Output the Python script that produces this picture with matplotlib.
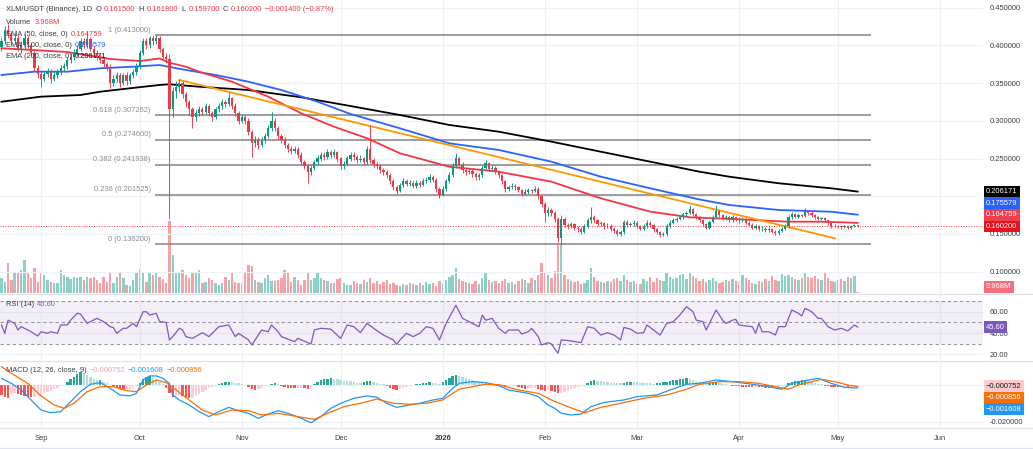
import numpy as np
import matplotlib
matplotlib.use("Agg")
import matplotlib.pyplot as plt
from matplotlib.lines import Line2D

plt.rcParams['font.family'] = ['Liberation Sans', 'DejaVu Sans']

# ---------------- data (days counted from 2025-09-01) ----------------
first_day = -12          # 2025-08-20
first_open = 0.398
close = [
    .405, .420, .415, .405, .410, .395, .400, .410, .400, .390,
    .370, .362, .355, .362, .365, .355, .360, .365, .370, .372,
    .380, .385, .390, .395, .405, .400, .408, .395, .390, .385,
    .380, .375, .370, .350, .355, .360, .350, .360, .352, .360,
    .365, .372, .390, .405, .400, .410, .405, .410, .395, .385,
    .382, .315, .340, .345, .350, .335, .325, .315, .305, .310,
    .315, .312, .320, .310, .305, .315, .320, .325, .322, .330,
    .320, .310, .300, .305, .300, .285, .270, .275, .268, .275,
    .280, .290, .300, .290, .280, .275, .268, .262, .260, .262,
    .255, .245, .240, .232, .238, .245, .250, .255, .252, .258,
    .255, .258, .250, .240, .243, .250, .255, .252, .248, .250,
    .245, .262, .248, .243, .240, .235, .232, .228, .220, .212,
    .207, .215, .220, .216, .218, .214, .218, .215, .220, .222,
    .226, .222, .210, .202, .210, .220, .228, .240, .250, .242,
    .235, .232, .234, .230, .226, .228, .238, .244, .236, .238,
    .232, .228, .220, .210, .212, .214, .212, .208, .203, .206,
    .208, .207, .210, .200, .190, .178, .182, .178, .170, .145,
    .170, .162, .160, .163, .158, .156, .153, .160, .168, .172,
    .168, .163, .164, .160, .161, .157, .154, .150, .152, .166,
    .162, .163, .165, .160, .157, .160, .165, .162, .156, .152,
    .149, .150, .160, .165, .168, .170, .172, .176, .178, .183,
    .176, .172, .168, .163, .158, .166, .172, .180, .175, .170,
    .172, .168, .172, .170, .168, .169, .165, .162, .158, .160,
    .156, .157, .155, .156, .153, .151, .154, .157, .160, .172,
    .176, .173, .175, .174, .180, .178, .175, .172, .170, .171,
    .168, .164, .160, .161, .160, .159, .160, .158, .160, .1615, .1602]
high = [
    .410, .425, .428, .418, .416, .413, .405, .415, .412, .403,
    .392, .374, .366, .366, .370, .368, .364, .369, .374, .377,
    .385, .390, .395, .400, .410, .409, .418, .411, .399, .394,
    .389, .384, .378, .375, .360, .364, .363, .363, .364, .363,
    .369, .376, .394, .410, .409, .412, .413, .413, .412, .398,
    .390, .388, .345, .352, .355, .352, .338, .328, .318, .314,
    .319, .318, .324, .322, .313, .318, .324, .329, .328, .338,
    .332, .323, .313, .309, .308, .303, .288, .280, .278, .279,
    .284, .294, .312, .303, .293, .283, .278, .271, .266, .266,
    .265, .258, .248, .243, .241, .248, .254, .259, .258, .262,
    .261, .262, .260, .252, .247, .253, .259, .258, .255, .254,
    .252, .266, .294, .251, .246, .243, .238, .235, .231, .223,
    .215, .218, .224, .223, .221, .220, .221, .220, .224, .226,
    .230, .228, .224, .212, .213, .223, .232, .244, .257, .252,
    .245, .238, .237, .236, .232, .231, .241, .248, .246, .241,
    .240, .234, .230, .222, .215, .217, .216, .214, .210, .209,
    .211, .210, .213, .212, .202, .193, .186, .185, .181, .172,
    .175, .172, .165, .166, .165, .161, .159, .163, .171, .186,
    .175, .170, .167, .166, .164, .163, .159, .156, .155, .169,
    .168, .166, .168, .167, .162, .163, .168, .167, .163, .158,
    .154, .153, .163, .168, .171, .173, .175, .179, .181, .188,
    .185, .178, .174, .170, .165, .168, .175, .188, .182, .177,
    .175, .174, .175, .174, .172, .172, .171, .167, .164, .163,
    .162, .160, .159, .159, .158, .155, .156, .159, .163, .175,
    .179, .178, .178, .177, .185, .182, .180, .177, .174, .173,
    .173, .169, .165, .163, .162, .161, .162, .161, .162, .163, .1618]
low = [
    .392, .402, .410, .400, .401, .392, .390, .397, .396, .386,
    .366, .356, .345, .352, .358, .350, .352, .356, .361, .366,
    .369, .376, .381, .386, .392, .396, .397, .392, .386, .381,
    .376, .371, .366, .343, .346, .351, .345, .347, .348, .349,
    .356, .361, .369, .387, .395, .397, .400, .401, .391, .380,
    .377, .170, .305, .330, .338, .330, .318, .308, .290, .300,
    .306, .307, .309, .306, .300, .302, .311, .316, .318, .319,
    .316, .306, .296, .297, .296, .281, .252, .265, .263, .265,
    .271, .277, .287, .286, .276, .271, .264, .258, .256, .257,
    .251, .241, .236, .218, .228, .235, .242, .247, .248, .249,
    .251, .252, .246, .236, .236, .240, .247, .248, .244, .245,
    .241, .243, .244, .239, .236, .231, .228, .224, .216, .208,
    .203, .205, .212, .213, .213, .211, .211, .212, .213, .217,
    .219, .219, .206, .198, .200, .207, .217, .226, .237, .238,
    .231, .228, .229, .226, .222, .222, .226, .235, .233, .233,
    .229, .224, .216, .206, .207, .209, .208, .205, .200, .201,
    .203, .204, .205, .197, .186, .166, .174, .174, .166, .140,
    .1362, .159, .157, .158, .155, .153, .150, .151, .158, .165,
    .165, .160, .160, .157, .158, .154, .151, .148, .147, .150,
    .159, .160, .160, .158, .155, .155, .158, .159, .153, .150,
    .146, .147, .148, .158, .163, .166, .168, .170, .174, .176,
    .174, .170, .166, .161, .156, .157, .164, .170, .173, .168,
    .168, .166, .166, .167, .165, .166, .163, .160, .156, .156,
    .154, .154, .153, .153, .151, .149, .149, .152, .155, .158,
    .170, .171, .171, .172, .172, .175, .173, .170, .168, .168,
    .166, .162, .158, .159, .158, .157, .158, .157, .157, .159, .1597]
volume_m = [
    59, 44, 119, 52, 79, 81, 92, 132, 85, 59, 99, 45, 85, 72, 52, 45, 39, 41, 92, 72,
    64, 55, 64, 59, 64, 52, 63, 59, 64, 52, 40, 63, 44, 81, 40, 63, 79, 59, 32, 28,
    52, 81, 95, 79, 44, 79, 72, 79, 64, 55, 39, 288,
    151, 81, 79, 92, 72, 59, 81, 85, 92, 40, 44, 59, 52, 39, 32, 39, 63, 52, 81, 44,
    39, 40, 81, 111, 107, 52, 45, 41, 59, 72, 47, 48, 52, 59, 92, 79, 44, 64, 52, 32,
    52, 81, 52, 59, 79, 59, 52, 48, 41, 39, 55, 59, 39, 32,
    32, 48, 40, 36, 52, 44, 60, 40, 48, 36, 44, 52, 36, 40, 32,
    28, 36, 32, 40, 36, 32, 40, 32, 44, 36, 40, 28, 48,
    40, 52, 64, 72, 100, 56,
    48, 44, 40, 36, 48, 36, 60, 80, 52, 44, 48, 40,
    48, 56, 40, 44, 36, 48, 56, 52, 40, 60, 52, 72, 120,
    80, 72, 60, 88, 196, 196,
    72, 56, 48, 44, 48, 36, 40, 52, 100, 64, 48, 44,
    40, 48, 44, 56, 60, 48, 72, 52, 44, 48, 40, 36, 56, 48, 64, 44, 60, 52, 48, 80,
    64, 56, 60, 72, 76, 56, 80, 68, 60, 48, 56, 44, 52, 60, 48, 40, 44, 52, 48, 56,
    48, 44, 72, 60, 52, 40, 36, 48, 44, 56, 48, 68, 52, 48, 76, 68, 72, 64, 56, 52,
    60, 80, 64, 60, 68, 56, 52, 84, 60, 48, 44, 52, 56, 48, 64, 60, 68, 3.968]

ema50_days = [-12, 8, 21, 30, 36, 39, 44, 48, 58, 69, 79, 89, 99, 109, 124, 139, 155, 170, 185, 197, 212, 227, 237, 248]
ema50_vals = [0.3960, 0.3911, 0.3818, 0.3791, 0.3825, 0.3769, 0.3716, 0.3650, 0.3517, 0.3319, 0.3099, 0.2921,
              0.2768, 0.2569, 0.2391, 0.2325, 0.2193, 0.1973, 0.1796, 0.1721, 0.1695, 0.1663, 0.1663, 0.164759]
ema100_days = [-12, -2, 8, 18, 28, 36, 43, 53, 63, 73, 84, 94, 109, 124, 139, 155, 170, 185, 200, 209, 224, 240, 248]
ema100_vals = [0.3606, 0.3650, 0.3650, 0.3695, 0.3716, 0.3738, 0.3680, 0.3606, 0.3517, 0.3407, 0.3252, 0.3089,
               0.2900, 0.2701, 0.2613, 0.2458, 0.2259, 0.2105, 0.1957, 0.1884, 0.1818, 0.1795, 0.175579]
ema200_days = [-12, 0, 12, 18, 27, 36, 39, 48, 63, 79, 94, 109, 124, 139, 155, 170, 185, 200, 209, 224, 240, 248]
ema200_vals = [0.3252, 0.3319, 0.3341, 0.3385, 0.3430, 0.3474, 0.3483, 0.3451, 0.3407, 0.3311, 0.3195, 0.3076,
               0.2944, 0.2855, 0.2723, 0.2590, 0.2458, 0.2325, 0.2259, 0.2172, 0.2105, 0.206171]

fib_high, fib_low = 0.413, 0.1362
fib_ratios = [1, 0.618, 0.5, 0.382, 0.236, 0]
fib_days = [34.6, 252.0]
trend_days = [42.0, 241.1]
trend_vals = [0.354, 0.1443]

rsi_days = [-12, -11, -10, -8, -7, -6, -4, -3, -1, 0, 2, 3, 5, 6, 8, 9, 11, 12, 14, 17,
            19, 21, 22, 23, 25, 26, 28, 29, 31, 32, 33, 35, 36, 38, 39, 40, 42, 43, 44, 46,
            49, 51, 52, 54, 57, 59, 60, 63, 64, 66, 67, 69, 70, 72, 73, 77, 78, 82, 83, 85,
            88, 91, 93, 95, 97, 99, 101, 104, 107, 108, 109, 111, 113, 115, 117, 119, 121, 123, 126, 128,
            131, 133, 134, 135, 137, 139, 141, 142, 145, 146, 148, 149, 151, 152, 154, 155, 157, 158, 160, 164,
            166, 168, 170, 172, 174, 176, 177, 179, 181, 183, 184, 186, 188, 190, 192, 194, 196, 198, 199, 201,
            202, 204, 205, 207, 208, 210, 211, 212, 214, 216, 217, 218, 219, 221, 223, 224, 226, 228, 230, 231,
            232, 234, 236, 237, 239, 241, 243, 245, 247, 248]
rsi_vals = [47.5, 39.7, 52.0, 49.0, 42.8, 45.9, 42.8, 41.2, 37.2, 41.2, 39.7, 41.2, 39.7, 47.5, 47.5, 52.0, 58.4, 57.8, 49.0, 53.7,
            50.6, 45.9, 45.0, 39.7, 44.4, 44.4, 49.0, 45.9, 59.9, 59.9, 56.8, 58.4, 50.6, 50.0, 33.5, 36.6, 44.4, 42.8, 36.6, 35.0,
            40.3, 36.6, 39.7, 45.9, 47.5, 36.6, 39.7, 33.5, 28.8, 38.1, 42.8, 41.2, 47.5, 41.2, 36.6, 31.9, 35.0, 29.7, 42.8, 44.4,
            43.6, 35.0, 47.5, 45.9, 40.3, 49.0, 44.4, 38.1, 33.5, 29.4, 33.5, 39.7, 36.6, 39.7, 45.9, 44.4, 33.5, 49.0, 65.9, 53.7,
            49.0, 45.9, 56.8, 52.0, 53.7, 44.4, 39.7, 42.8, 42.8, 39.0, 41.2, 44.4, 36.6, 28.8, 31.0, 29.7, 21.0, 33.5, 33.0, 31.0,
            45.9, 44.4, 38.1, 40.3, 38.1, 33.5, 45.2, 43.6, 39.7, 40.3, 47.5, 42.8, 38.1, 49.0, 50.6, 56.8, 64.6, 60.0, 52.0, 50.6,
            42.8, 55.3, 61.5, 52.0, 49.0, 52.0, 52.7, 47.5, 46.6, 45.9, 39.7, 49.0, 41.2, 41.2, 38.1, 45.9, 45.9, 61.5, 58.4, 55.9,
            63.0, 60.0, 53.7, 53.7, 45.9, 42.8, 44.4, 41.9, 47.5, 45.6]

macd_days = [-12, -9, -6, -3, 0, 3, 6, 9, 12, 15, 18, 21, 24, 27, 29, 31, 33, 35, 37, 39,
             40, 42, 45, 48, 51, 54, 57, 60, 63, 66, 69, 72, 75, 79, 82, 85, 88, 91, 95, 99,
             102, 105, 108, 112, 115, 119, 122, 125, 127, 131, 135, 139, 142, 148, 151, 154, 156, 158, 161, 164,
             167, 171, 177, 181, 187, 191, 196, 200, 205, 210, 216, 221, 225, 228, 233, 236, 240, 244, 248]
macd_vals = [0.0036, 0.0009, -0.0027, -0.0081, -0.0135, -0.0150, -0.0144, -0.0090, -0.0036, 0.0004,
             0.0013, -0.0018, -0.0054, -0.0059, -0.0045, 0.0027, 0.0049, 0.0049, 0.0036, 0.0009,
             -0.0054, -0.0081, -0.0108, -0.0144, -0.0171, -0.0144, -0.0121, -0.0139, -0.0153, -0.0180,
             -0.0157, -0.0139, -0.0153, -0.0180, -0.0204, -0.0171, -0.0126, -0.0099, -0.0072, -0.0059,
             -0.0066, -0.0099, -0.0121, -0.0108, -0.0099, -0.0081, -0.0072, -0.0018, 0.0009, 0.0018,
             0.0013, -0.0003, -0.0027, -0.0045, -0.0063, -0.0108, -0.0126, -0.0153, -0.0162, -0.0157,
             -0.0117, -0.0094, -0.0081, -0.0063, -0.0054, -0.0027, 0.0004, 0.0009, 0.0027, 0.0018,
             0.0004, -0.0009, -0.0023, 0.0009, 0.0027, 0.0036, 0.0009, -0.0013, -0.001608]
signal_days = [-12, -9, -4, 0, 4, 7, 10, 14, 18, 22, 26, 29, 32, 35, 38, 41, 45, 49, 53, 58,
               63, 67, 72, 77, 83, 87, 92, 97, 102, 107, 112, 117, 122, 127, 131, 135, 139, 145, 151, 155,
               160, 165, 170, 177, 183, 190, 196, 200, 206, 212, 218, 223, 227, 230, 237, 241, 245, 248]
signal_vals = [0.0099, 0.0063, 0.0009, -0.0059, -0.0108, -0.0126, -0.0099, -0.0036, -0.0009, -0.0009,
               -0.0031, -0.0036, 0.0000, 0.0027, 0.0013, -0.0027, -0.0081, -0.0135, -0.0162, -0.0135,
               -0.0139, -0.0162, -0.0153, -0.0168, -0.0186, -0.0153, -0.0117, -0.0099, -0.0076, -0.0099,
               -0.0104, -0.0099, -0.0081, -0.0023, -0.0009, 0.0004, 0.0002, -0.0027, -0.0045, -0.0081,
               -0.0117, -0.0150, -0.0121, -0.0095, -0.0072, -0.0054, -0.0023, 0.0004, 0.0018, 0.0018,
               0.0009, -0.0009, -0.0023, 0.0000, 0.0031, 0.0018, 0.0000, -0.000856]
hist_vals = [
    -0.0055, -0.0065, -0.0072, -0.0050, -0.0045, -0.0050, -0.0054, -0.0060, -0.0064, -0.0067, -0.0066, -0.0060,
    -0.0052, -0.0045, -0.0038, -0.0030, -0.0022, -0.0015, -0.0008, -0.0002,
    0.0015, 0.0030, 0.0045, 0.0060, 0.0072,
    0.0065, 0.0055, 0.0045, 0.0035, 0.0025,
    0.0027, 0.0018, 0.0010, 0.0002,
    -0.0008, -0.0015, -0.0022, -0.0027, -0.0024, -0.0020, -0.0014, -0.0006,
    0.0012, 0.0030, 0.0045, 0.0049, 0.0040, 0.0030, 0.0018, 0.0008,
    -0.0015, -0.0045, -0.0063, -0.0058, -0.0055, -0.0060, -0.0066, -0.0072, -0.0068,
    -0.0058, -0.0048, -0.0038, -0.0028, -0.0018, -0.0010, -0.0003,
    0.0006, 0.0010, 0.0014, 0.0018, 0.0016, 0.0012, 0.0010, 0.0006, 0.0002,
    -0.0012, -0.0022, -0.0027, -0.0020, -0.0014, -0.0008, -0.0003,
    0.0006, 0.0009, 0.0005,
    -0.0005, -0.0010, -0.0014, -0.0016, -0.0018, -0.0016, -0.0015, -0.0017, -0.0019, -0.0012,
    0.0008, 0.0018, 0.0026, 0.0031, 0.0035, 0.0036, 0.0034, 0.0030, 0.0026, 0.0024, 0.0022,
    0.0019, 0.0016, 0.0012, 0.0010, 0.0014, 0.0019, 0.0021, 0.0018, 0.0013, 0.0008, 0.0003,
    -0.0008, -0.0016, -0.0023, -0.0027, -0.0022, -0.0016, -0.0010, -0.0006, -0.0002,
    0.0004, 0.0007, 0.0010, 0.0012, 0.0015, 0.0012, 0.0009, 0.0008, 0.0016, 0.0028, 0.0040, 0.0050, 0.0054,
    0.0050, 0.0044, 0.0038, 0.0032, 0.0027, 0.0022, 0.0018, 0.0017, 0.0016, 0.0013, 0.0010, 0.0006, 0.0002,
    -0.0008, -0.0012, -0.0010, -0.0008, -0.0006, -0.0010, -0.0016, -0.0020, -0.0018, -0.0015, -0.0014, -0.0020, -0.0027,
    -0.0030, -0.0028, -0.0030, -0.0036, -0.0045, -0.0042, -0.0036, -0.0030, -0.0024, -0.0018, -0.0012, -0.0007, -0.0003,
    0.0010, 0.0020, 0.0027, 0.0024, 0.0021, 0.0018, 0.0016, 0.0013, 0.0011, 0.0010, 0.0009,
    0.0013, 0.0016, 0.0018, 0.0017, 0.0015, 0.0013, 0.0011, 0.0010, 0.0009, 0.0008, 0.0009,
    0.0010, 0.0014, 0.0018, 0.0022, 0.0026, 0.0029, 0.0032, 0.0035, 0.0036, 0.0033, 0.0028,
    0.0022, 0.0016, 0.0011, 0.0008, 0.0011, 0.0014, 0.0017, 0.0013, 0.0008, 0.0004, 0.0001,
    -0.0004, -0.0006, -0.0008, -0.0009, -0.0009, -0.0011, -0.0012, -0.0011, -0.0012,
    -0.0013, -0.0014, -0.0015, -0.0015, -0.0014, -0.0010, -0.0006, -0.0002,
    0.0010, 0.0018, 0.0020, 0.0022, 0.0025, 0.0027, 0.0024, 0.0018, 0.0012, 0.0007, 0.0003,
    -0.0003, -0.0007, -0.0009, -0.0011, -0.0012, -0.0011, -0.0010, -0.0011, -0.0009, -0.0008, -0.000752]

month_days = [0, 30, 61, 91, 122, 153, 181, 212, 242, 273]
month_labels = ['Sep', 'Oct', 'Nov', 'Dec', '2026', 'Feb', 'Mar', 'Apr', 'May', 'Jun']
price_ticks = [0.10, 0.15, 0.20, 0.25, 0.30, 0.35, 0.40, 0.45]

# ---------------- layout ----------------
W, H = 1033, 449
fig = plt.figure(figsize=(W / 100, H / 100), dpi=100)
fig.patch.set_facecolor('white')
PLOT_R = 983


def pane(top, bottom):
    return fig.add_axes([0, 1 - bottom / H, PLOT_R / W, (bottom - top) / H])


ax = pane(0, 293)
axv = pane(0, 293)
ax_r = pane(294, 360)
ax_m = pane(361, 427)

XLIM = (-12.45, 286.06)
UP, DN = '#089981', '#f23645'
GRID = '#eef0f4'
TXT = '#3a3d45'
FS = 5.4

for a in (ax, axv, ax_r, ax_m):
    a.set_xlim(*XLIM)
    for s in a.spines.values():
        s.set_visible(False)
    a.set_facecolor('none')
    a.set_xticks(month_days)
    a.tick_params(axis='x', length=0, labelbottom=False)
    a.grid(True, axis='x', color=GRID, lw=0.8)
    a.set_axisbelow(True)

# volume (behind candles)
n = len(close)
days = np.arange(first_day, first_day + n)
c = np.array(close)
o = np.concatenate([[first_open], c[:-1]])
h = np.array(high)
lo = np.array(low)
up = c >= o
cols = np.where(up, UP, DN)
vcols = np.where(up, '#8ad2c5', '#f9a0a7')
axv.bar(days, volume_m, width=0.72, color=vcols, lw=0)
axv.set_ylim(0, 293 * 4)
axv.set_axis_off()
axv.set_zorder(0)
ax.set_zorder(1)

# main pane
ax.set_ylim(0.45 - (293 - 7.5) / 755, 0.45 + 7.5 / 755)
ax.set_yticks(price_ticks)
ax.yaxis.tick_right()
ax.tick_params(axis='y', length=0, pad=5, labelsize=FS, labelcolor=TXT)
ax.set_yticklabels(['%.6f' % v for v in price_ticks])
ax.grid(True, axis='y', color=GRID, lw=0.8)

fib_prices = [fib_low + r * (fib_high - fib_low) for r in fib_ratios]
for r, p in zip(fib_ratios, fib_prices):
    ax.hlines(p, fib_days[0], fib_days[1], color='#8c8c8c', lw=1.2, zorder=2)
    lab = ('%g' % r) + ' (%.6f)' % p
    ax.annotate(lab, (fib_days[0], p), xytext=(-3, 1.2), textcoords='offset points',
                ha='right', va='bottom', fontsize=FS, color='#8a8d96', zorder=2)

ax.axhline(c[-1], color=DN, lw=0.7, ls=(0, (1, 1.6)), zorder=2)
ax.plot(ema200_days, ema200_vals, color='#000000', lw=1.3, zorder=3)
ax.plot(ema100_days, ema100_vals, color='#2962ff', lw=1.3, zorder=3)
ax.plot(ema50_days, ema50_vals, color='#f23645', lw=1.3, zorder=3)
ax.plot(trend_days, trend_vals, color='#ff9800', lw=1.3, zorder=3)

ax.vlines(days, lo, h, colors=cols, lw=0.65, zorder=4)
body_lo = np.minimum(o, c)
body_h = np.maximum(np.abs(c - o), 0.0008)
ax.bar(days, body_h, bottom=body_lo, width=0.68, color=cols, lw=0, zorder=5)

# RSI pane
ax_r.set_ylim(50 - (360 - 322.3) / 1.07, 50 + (322.3 - 294) / 1.07)
ax_r.axhspan(30, 70, color='#7e57c2', alpha=0.09, lw=0)
for lvl in (70, 50, 30):
    ax_r.axhline(lvl, color='#9598a1', lw=0.8, ls=(0, (3, 2.5)))
ax_r.plot(rsi_days, rsi_vals, color='#7e57c2', lw=0.9)
ax_r.set_yticks([20, 40, 60])
ax_r.yaxis.tick_right()
ax_r.set_yticklabels(['20.00', '40.00', '60.00'])
ax_r.tick_params(axis='y', length=0, pad=5, labelsize=FS, labelcolor=TXT)
ax_r.grid(True, axis='y', color=GRID, lw=0.8)

# MACD pane
ax_m.set_ylim(-(427 - 385) / 1850, (385 - 361) / 1850)
hv = np.array(hist_vals)
prev = np.concatenate([[hv[0]], hv[:-1]])
hcols = np.where(hv >= 0, np.where(hv >= prev, '#26a69a', '#b2dfdb'),
                 np.where(hv <= prev, '#ff5252', '#ffcdd2'))
ax_m.bar(days, hv, width=0.72, color=hcols, lw=0)
ax_m.plot(macd_days, macd_vals, color='#2196f3', lw=0.9)
ax_m.plot(signal_days, signal_vals, color='#ff6d00', lw=0.9)
ax_m.set_yticks([-0.02, 0.0])
ax_m.yaxis.tick_right()
ax_m.set_yticklabels(['-0.020000', ''])
ax_m.tick_params(axis='y', length=0, pad=5, labelsize=FS, labelcolor=TXT)
ax_m.grid(True, axis='y', color=GRID, lw=0.8)
ax_m.set_xticklabels(month_labels)
ax_m.tick_params(axis='x', labelbottom=True, pad=6, labelsize=FS, labelcolor=TXT)
ax_m.get_xticklabels()[month_labels.index('2026')].set_fontweight('bold')

# separators
for yy in (293.5, 360.5, 427.5, 447.5):
    fig.add_artist(Line2D([0, 1], [1 - yy / H] * 2, transform=fig.transFigure,
                          color='#e0e3eb', lw=0.9))

renderer = fig.canvas.get_renderer()


def seg_text(x_px, y_px, parts, gap=3.0):
    x = x_px
    for s, col in parts:
        t = fig.text(x / W, 1 - y_px / H, s, color=col, fontsize=FS, va='center', ha='left')
        x += t.get_window_extent(renderer=renderer).width + gap


RED = '#f23645'
seg_text(6, 9.5, [('XLM/USDT (Binance), 1D', TXT), ('O', TXT), ('0.161500', RED),
                  ('H', TXT), ('0.161800', RED), ('L', TXT), ('0.159700', RED),
                  ('C', TXT), ('0.160200', RED), ('\u22120.001400 (\u22120.87%)', RED)])
seg_text(6, 22.5, [('Volume', TXT), ('3.968M', RED)])
seg_text(6, 34, [('EMA (50, close, 0)', TXT), ('0.164759', RED)])
seg_text(6, 45.5, [('EMA (100, close, 0)', TXT), ('0.175579', '#2962ff')])
seg_text(6, 57, [('EMA (200, close, 0)', TXT), ('0.206171', '#000000')])
seg_text(6, 304.5, [('RSI (14)', TXT), ('45.60', '#7e57c2')])
seg_text(6, 370.5, [('MACD (12, 26, close, 9)', TXT), ('\u22120.000752', '#f7a1a8'),
                    ('\u22120.001608', '#2196f3'), ('\u22120.000856', '#ff6d00')])


def ypx(a, v):
    return H - a.transData.transform((0, v))[1]


def box(y_px, s, bg, fg='white'):
    fig.text(986 / W, 1 - y_px / H, s, fontsize=FS, color=fg, va='center', ha='left',
             bbox=dict(boxstyle='square,pad=0.32', fc=bg, ec='none'))


STEP = 11.5
# main pane labels, stacked upward from the last close
labels = [(c[-1], '%.6f' % c[-1], '#e8121f'),
          (ema50_vals[-1], '%.6f' % ema50_vals[-1], '#f0404d'),
          (ema100_vals[-1], '%.6f' % ema100_vals[-1], '#2962ff'),
          (ema200_vals[-1], '%.6f' % ema200_vals[-1], '#000000')]
prev_y = None
for v, s, bg in labels:
    y = ypx(ax, v)
    if prev_y is not None:
        y = min(y, prev_y - STEP)
    box(y, s, bg)
    prev_y = y
box(min(ypx(axv, volume_m[-1]), 293 - 6), '3.968M', '#f5707a')
box(ypx(ax_r, rsi_vals[-1]), '%.2f' % rsi_vals[-1], '#7e57c2')
# MACD labels, stacked downward
mlabels = [(hist_vals[-1], '\u2212%.6f' % abs(hist_vals[-1]), '#fccbcd', '#131722'),
           (signal_vals[-1], '\u2212%.6f' % abs(signal_vals[-1]), '#ff6d00', 'white'),
           (macd_vals[-1], '\u2212%.6f' % abs(macd_vals[-1]), '#2196f3', 'white')]
prev_y = None
for v, s, bg, fg in mlabels:
    y = ypx(ax_m, v)
    if prev_y is not None:
        y = max(y, prev_y + STEP)
    box(y, s, bg, fg)
    prev_y = y

fig.savefig('out.png', dpi=100, facecolor='white')
